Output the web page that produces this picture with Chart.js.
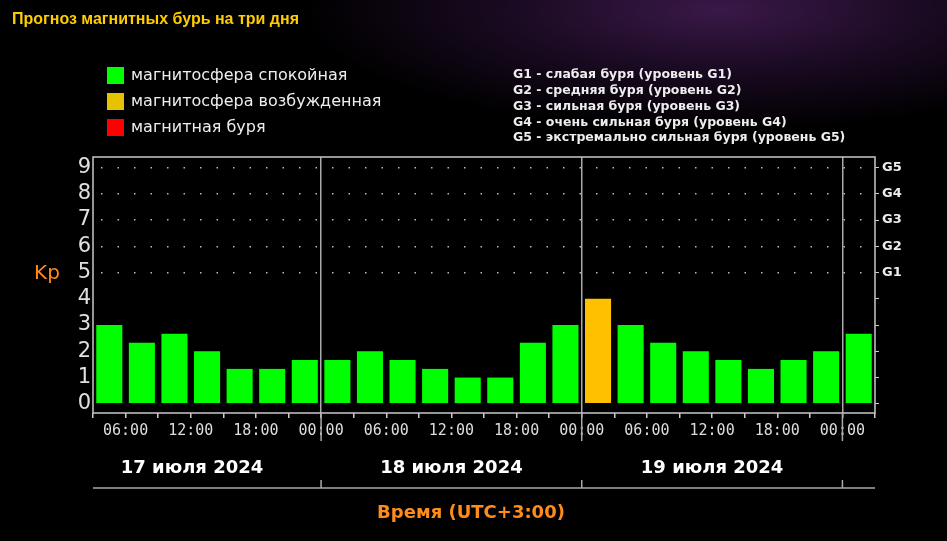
<!DOCTYPE html>
<html><head><meta charset="utf-8">
<script src="https://cdn.jsdelivr.net/npm/chart.js@4"></script>
<style>
html,body{margin:0;padding:0;background:#000;}
#wrap{width:947px;height:541px;position:relative;background:radial-gradient(ellipse 420px 120px at 720px 10px,#3a1848 0%,#1a0a22 50%,#000 100%);}
</style></head><body>
<div id="wrap"><canvas id="c" width="947" height="541"></canvas></div>
<script>
// hours since 03:00 on 17 July (bar centres)
const hours = [1.5,4.5,7.5,10.5,13.5,16.5,19.5,22.5,25.5,28.5,31.5,34.5,37.5,40.5,43.5,46.5,49.5,52.5,55.5,58.5,61.5,64.5,67.5,70.5];
const kp = [3,2.33,2.67,2,1.33,1.33,1.67, 1.67,2,1.67,1.33,1,1,2.33,3, 4,3,2.33,2,1.67,1.33,1.67,2, 2.67];
const dayLabels = ['17 июля 2024','18 июля 2024','19 июля 2024'];
const dayStarts = [-3,21,45,69];
const gLabels = {5:'G1',6:'G2',7:'G3',8:'G4',9:'G5'};
const legendLeft = [['#00ff00','магнитосфера спокойная'],['#e6c200','магнитосфера возбужденная'],['#ff0000','магнитная буря']];
const legendRight = ['G1 - слабая буря (уровень G1)','G2 - средняя буря (уровень G2)','G3 - сильная буря (уровень G3)','G4 - очень сильная буря (уровень G4)','G5 - экстремально сильная буря (уровень G5)'];
const colorFor = v => v >= 5 ? '#ff0000' : (v >= 4 ? '#ffc000' : '#00ff00');
const hourLabel = h => { const t = (h + 3) % 24; return String(t).padStart(2,'0') + ':00'; };

const deco = {
  id:'deco',
  afterDraw(chart){
    const ctx = chart.ctx, a = chart.chartArea, x = chart.scales.x;
    ctx.save();
    ctx.strokeStyle = '#c8c8c8'; ctx.lineWidth = 1.5;
    ctx.strokeRect(a.left, a.top, a.right - a.left, a.bottom - a.top);
    ctx.strokeStyle = '#aaa'; ctx.lineWidth = 1.5;
    for (const d of dayStarts.slice(1)) {
      const px = x.getPixelForValue(d);
      ctx.beginPath(); ctx.moveTo(px, a.bottom); ctx.lineTo(px, a.bottom + 28); ctx.stroke();
      ctx.beginPath(); ctx.moveTo(px, 480); ctx.lineTo(px, 488); ctx.stroke();
    }
    ctx.beginPath(); ctx.moveTo(a.left, 488); ctx.lineTo(a.right, 488); ctx.stroke();
    ctx.fillStyle = '#fff'; ctx.font = 'bold 18px "DejaVu Sans"'; ctx.textAlign = 'center'; ctx.textBaseline = 'middle';
    dayLabels.forEach((t,i) => {
      const c = (x.getPixelForValue(Math.max(dayStarts[i],0)) + x.getPixelForValue(dayStarts[i+1])) / 2;
      ctx.fillText(t, i === 0 ? 192 : c, 468);
    });
    ctx.fillStyle = '#ff8c1a'; ctx.font = 'bold 18px "DejaVu Sans"';
    ctx.fillText('Время (UTC+3:00)', 471, 513);
    ctx.font = '20px "DejaVu Sans"';
    ctx.fillText('Kp', 47, 274);
    ctx.textAlign = 'left';
    ctx.fillStyle = '#ffcc00'; ctx.font = 'bold 16px "Liberation Sans"';
    ctx.fillText('Прогноз магнитных бурь на три дня', 12, 20);
    ctx.font = '16px "DejaVu Sans"';
    legendLeft.forEach(([c,t],i) => {
      const y = 67 + i * 26;
      ctx.fillStyle = c; ctx.fillRect(107, y, 17, 17);
      ctx.fillStyle = '#eee'; ctx.fillText(t, 131, y + 9);
    });
    ctx.font = 'bold 12.5px "DejaVu Sans"';
    legendRight.forEach((t,i) => { ctx.fillStyle = '#eee'; ctx.fillText(t, 513, 75 + i * 15.8); });
    ctx.restore();
  }
};

new Chart(document.getElementById('c'), {
  type:'bar',
  data:{ datasets:[{ data: hours.map((h,i)=>({x:h,y:kp[i]})), backgroundColor: kp.map(colorFor), borderWidth:0, barPercentage:0.8, categoryPercentage:1 }]},
  options:{
    responsive:false, animation:false,
    layout:{padding:{top:157,left:60,right:0,bottom:98}},
    plugins:{legend:{display:false},tooltip:{enabled:false}},
    scales:{
      x:{ type:'linear', min:0, max:72, offset:false,
        afterFit(s){ s.height = 30; },
        ticks:{ stepSize:3, autoSkip:false, maxRotation:0, color:'#ddd', font:{family:'"DejaVu Sans Mono"', size:15}, padding:4,
          callback:v => ((v+3)%6===0 ? hourLabel(v) : '') },
        grid:{ offset:false, color: c => ((c.tick && (c.tick.value - 21) % 24 === 0) ? '#aaa' : 'rgba(0,0,0,0)'), lineWidth:1.5, tickColor:'#ccc', tickLength:5, drawOnChartArea:true },
        border:{display:false}
      },
      y:{ min:-0.35, max:9.4, position:'left',
        afterFit(s){ s.width = 33; },
        afterBuildTicks(s){ s.ticks = [0,1,2,3,4,5,6,7,8,9].map(v=>({value:v})); },
        ticks:{ color:'#e0e0e0', font:{family:'"DejaVu Sans"', size:21}, padding:2 },
        grid:{ color: c => (c.tick && c.tick.value >= 5 ? '#bbb' : 'rgba(0,0,0,0)'), lineWidth:1.5, drawTicks:false },
        border:{display:false, dash:[1.5,15], dashOffset:-8}
      },
      g:{ min:-0.35, max:9.4, position:'right',
        afterFit(s){ s.width = 72; },
        afterBuildTicks(s){ s.ticks = [0,1,2,3,4,5,6,7,8,9].map(v=>({value:v})); },
        ticks:{ color:'#eee', font:{family:'"DejaVu Sans"', size:13, weight:'bold'}, padding:3, callback:v => gLabels[v] || '' },
        grid:{ drawOnChartArea:false, color:'#ccc', tickLength:4 },
        border:{display:false}
      }
    }
  },
  plugins:[deco]
});
</script></body></html>
